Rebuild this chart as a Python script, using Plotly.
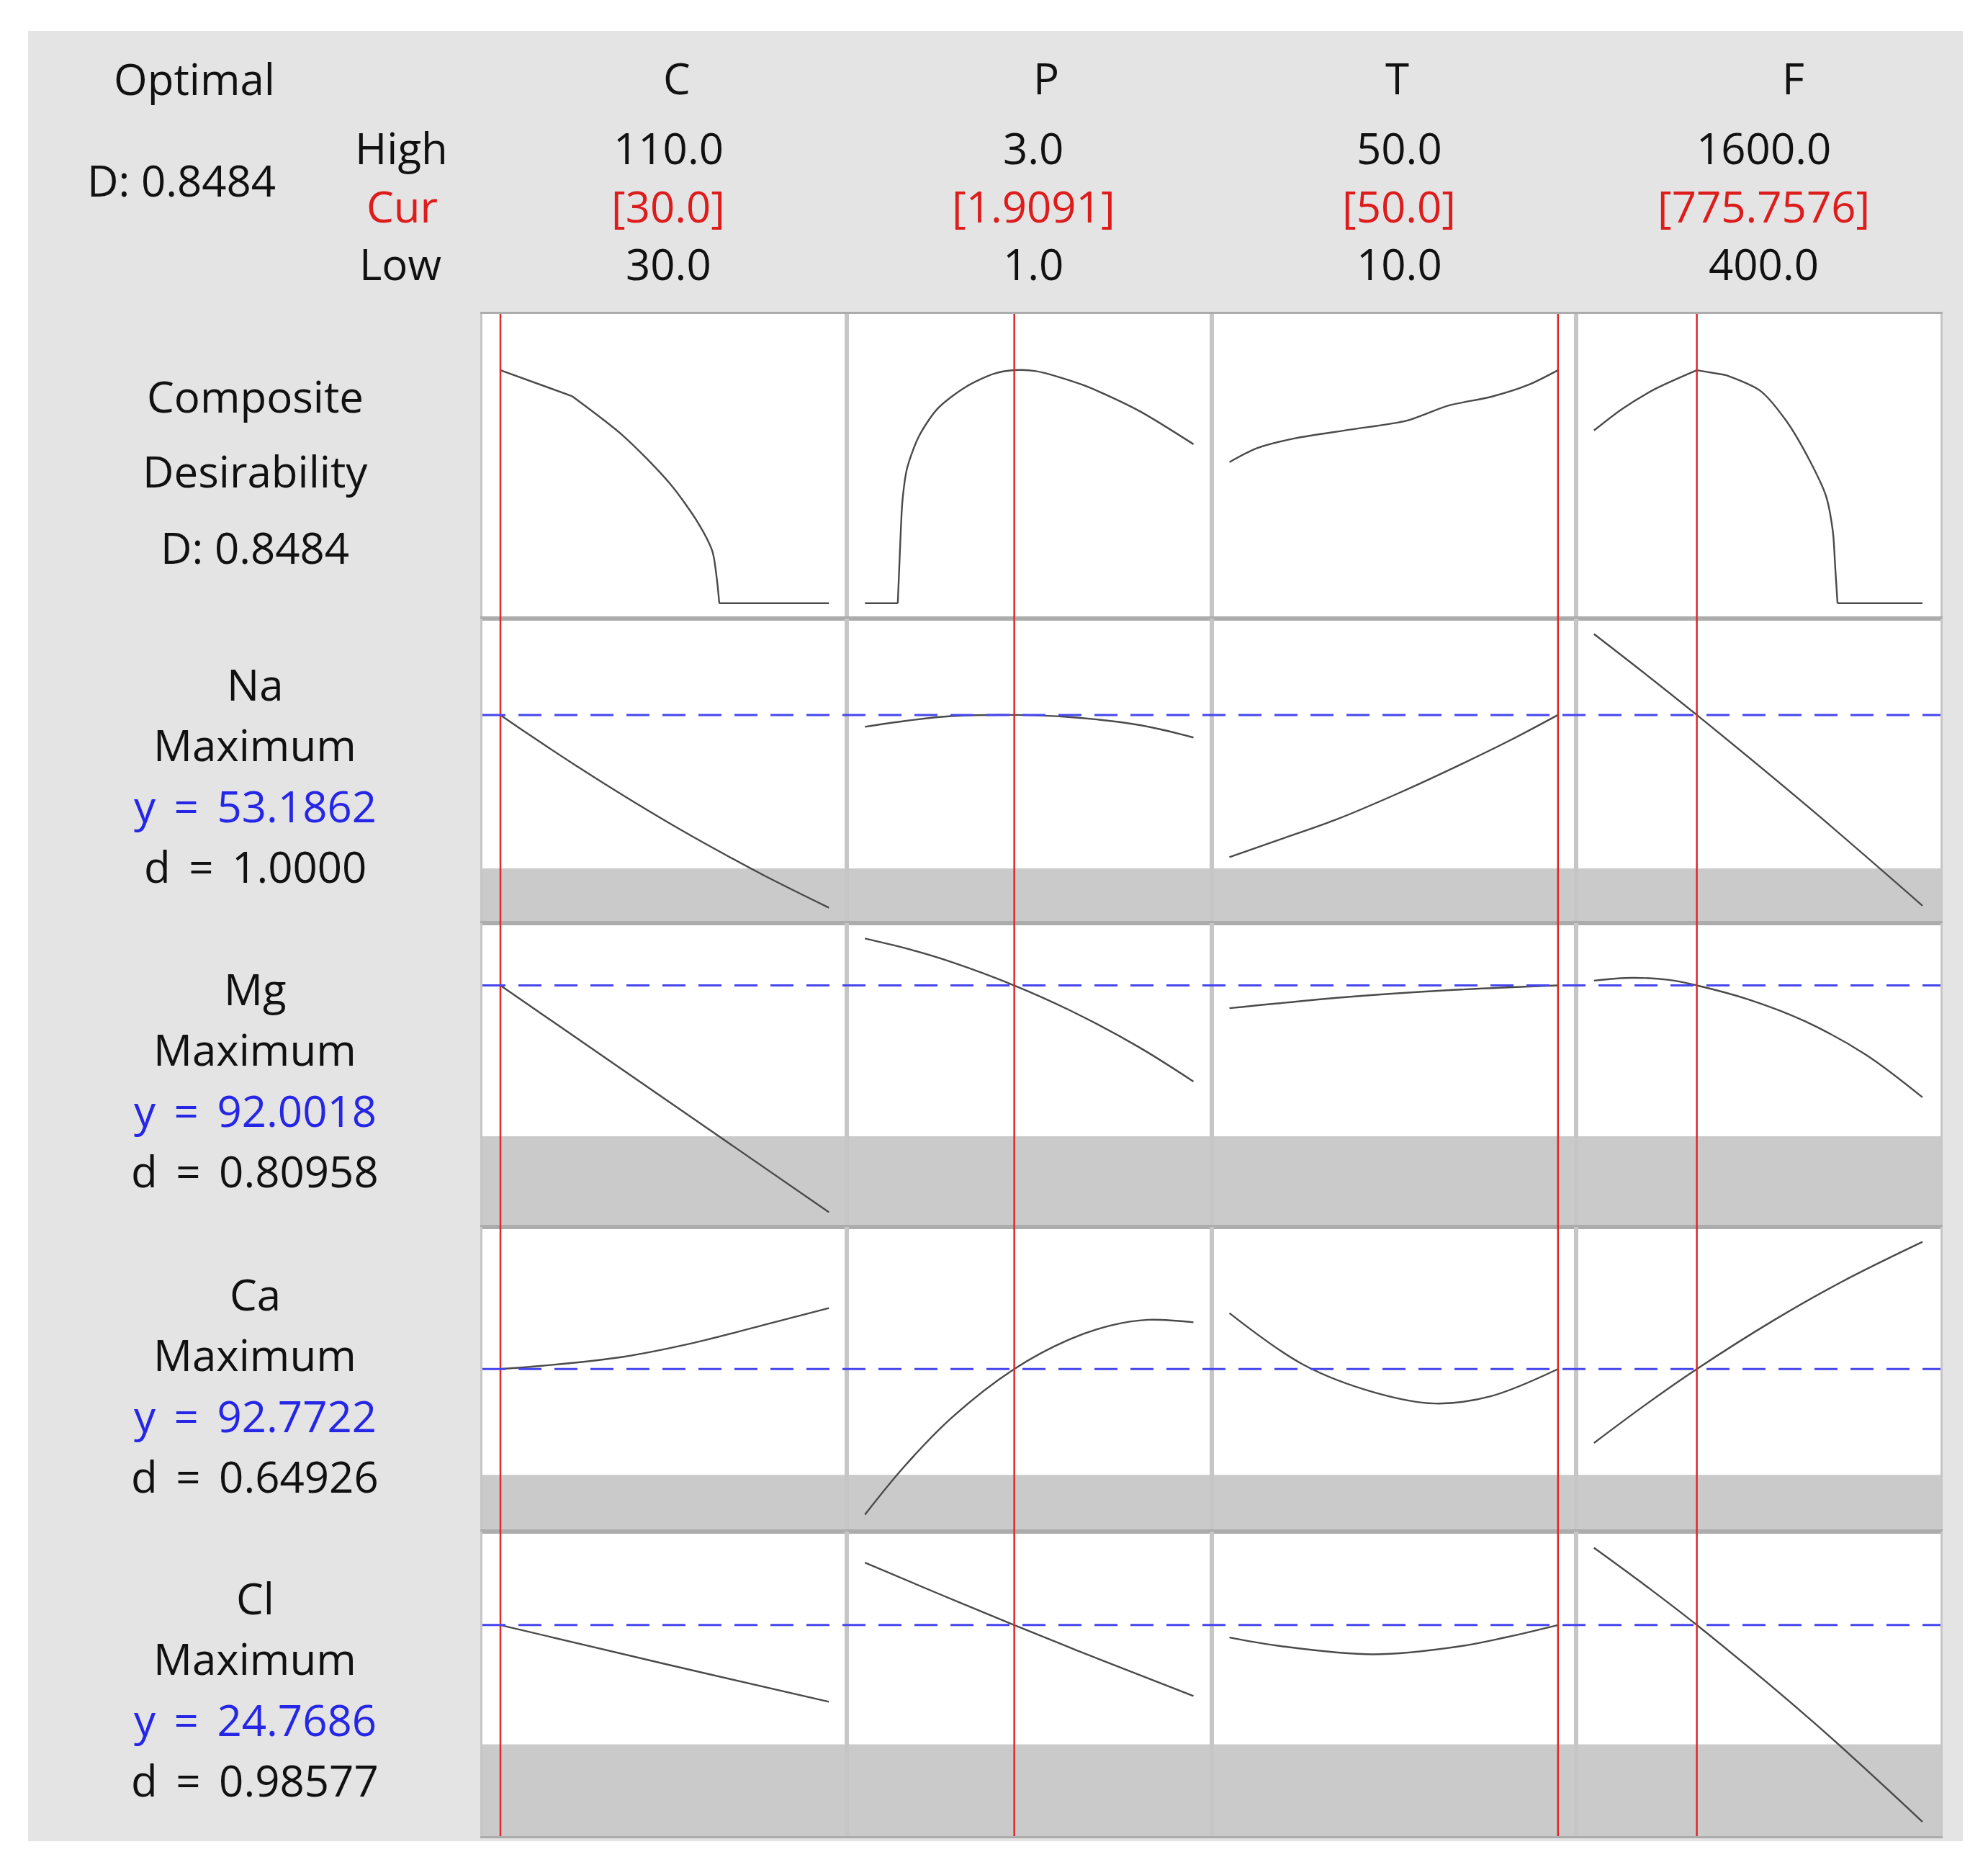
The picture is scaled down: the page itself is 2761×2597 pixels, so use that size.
import plotly.graph_objects as go
from plotly.subplots import make_subplots

# factor settings
factors = ["C", "P", "T", "F"]
highs = [110.0, 3.0, 50.0, 1600.0]
lows = [30.0, 1.0, 10.0, 400.0]
current = [30.0, 1.9091, 50.0, 775.7576]

# responses
responses = ["Na", "Mg", "Ca", "Cl"]
y_opt = [53.1862, 92.0018, 92.7722, 24.7686]
d_opt = ["1.0000", "0.80958", "0.64926", "0.98577"]
lower_limit = [40.4, 79.4, 86.9, 19.8]
D_total = 0.8484

# composite desirability traces
D_C_x = [30, 47.4, 60.0, 71.3, 78.2, 81.6, 82.7, 83.3, 110]
D_C_y = [0.8484, 0.754, 0.608, 0.435, 0.291, 0.190, 0.089, 0.0, 0.0]
D_P_x = [1.0, 1.20, 1.214, 1.229, 1.257, 1.329, 1.442, 1.613, 1.784, 1.9091, 2.040, 2.325, 2.667, 3.0]
D_P_y = [0, 0, 0.204, 0.377, 0.492, 0.608, 0.708, 0.787, 0.835, 0.8484, 0.845, 0.795, 0.701, 0.579]
D_T_x = [10, 13.3, 17.9, 24.7, 31.6, 36.7, 41.8, 46.4, 50]
D_T_y = [0.514, 0.564, 0.600, 0.632, 0.665, 0.720, 0.751, 0.795, 0.8484]
D_F_x = [400, 503.7, 623.5, 775.7576, 879.8, 1007.8, 1101.7, 1187.2, 1247, 1272.6, 1281.2, 1289.7, 1600]
D_F_y = [0.629, 0.708, 0.780, 0.8484, 0.831, 0.773, 0.665, 0.521, 0.392, 0.262, 0.132, 0, 0]

# Na
Na_C_x = [30, 37.2, 48.6, 60.0, 71.3, 82.7, 94.1, 110]
Na_C_y = [53.19, 51.50, 48.92, 46.46, 44.14, 41.93, 39.83, 37.12]
Na_P_x = [1.0, 1.243, 1.528, 1.9091, 2.240, 2.667, 3.0]
Na_P_y = [52.2, 52.69, 53.09, 53.19, 53.02, 52.36, 51.31]
Na_T_x = [10, 16.2, 23.0, 30.4, 37.2, 44.1, 50]
Na_T_y = [41.34, 42.82, 44.47, 46.61, 48.75, 51.05, 53.19]
Na_F_x = [400, 590, 775.7576, 1200, 1600]
Na_F_y = [59.94, 56.57, 53.19, 45.19, 37.29]

# Mg
Mg_C_x = [30, 70, 110]
Mg_C_y = [92.00, 82.52, 73.05]
Mg_P_x = [1.0, 1.243, 1.528, 1.9091, 2.240, 2.667, 3.0]
Mg_P_y = [95.92, 95.12, 93.95, 92.00, 89.97, 86.85, 83.97]
Mg_T_x = [10, 24.7, 36.1, 50]
Mg_T_y = [90.10, 91.05, 91.58, 92.00]
Mg_F_x = [400, 538, 674.6, 775.7576, 965, 1170, 1392, 1600]
Mg_F_y = [92.40, 92.63, 92.46, 92.00, 90.82, 89.01, 86.23, 82.65]

# Ca
Ca_C_x = [30, 40.2, 60.0, 77.1, 94.1, 110]
Ca_C_y = [92.77, 92.95, 93.45, 94.22, 95.21, 96.15]
Ca_P_x = [1.0, 1.243, 1.528, 1.9091, 2.240, 2.495, 2.723, 3.0]
Ca_P_y = [84.70, 87.40, 90.07, 92.77, 94.39, 95.18, 95.50, 95.36]
Ca_T_x = [10, 19.0, 27.6, 35.0, 41.8, 50]
Ca_T_y = [95.87, 93.01, 91.48, 90.86, 91.26, 92.77]
Ca_F_x = [400, 590, 775.7576, 1050, 1307, 1600]
Ca_F_y = [88.67, 90.81, 92.77, 95.41, 97.62, 99.82]

# Cl
Cl_C_x = [30, 70, 110]
Cl_C_y = [24.77, 23.15, 21.57]
Cl_P_x = [1.0, 1.45, 1.9091, 2.45, 3.0]
Cl_P_y = [27.37, 26.07, 24.77, 23.28, 21.81]
Cl_T_x = [10, 16.7, 27.5, 37.8, 43.8, 50]
Cl_T_y = [24.25, 23.87, 23.55, 23.87, 24.27, 24.77]
Cl_F_x = [400, 590, 775.7576, 1200, 1600]
Cl_F_y = [27.99, 26.40, 24.77, 20.74, 16.57]

curves = [
    [(D_C_x, D_C_y), (D_P_x, D_P_y), (D_T_x, D_T_y), (D_F_x, D_F_y)],
    [(Na_C_x, Na_C_y), (Na_P_x, Na_P_y), (Na_T_x, Na_T_y), (Na_F_x, Na_F_y)],
    [(Mg_C_x, Mg_C_y), (Mg_P_x, Mg_P_y), (Mg_T_x, Mg_T_y), (Mg_F_x, Mg_F_y)],
    [(Ca_C_x, Ca_C_y), (Ca_P_x, Ca_P_y), (Ca_T_x, Ca_T_y), (Ca_F_x, Ca_F_y)],
    [(Cl_C_x, Cl_C_y), (Cl_P_x, Cl_P_y), (Cl_T_x, Cl_T_y), (Cl_F_x, Cl_F_y)],
]
# sharp corners in the composite curves (point indices)
kinks = [[1, 7], [1], [], [3, 4, 11]]

# y ranges of each row of panels
row_ranges = [(-0.055, 1.053), (35.86, 61.24), (71.79, 97.23), (83.75, 100.63), (15.97, 28.66)]

W, H = 2761, 2597
OFF = 8  # page body margin
L, R, T, B = 670, 2695, 436, 2550  # grid box in pixels


def px(x):
    return (x - L) / (R - L)


def py(y):
    return (B - y) / (B - T)


fig = make_subplots(rows=5, cols=4, horizontal_spacing=0, vertical_spacing=0)

for r in range(5):
    for c in range(4):
        xs, ys = curves[r][c]
        cuts = [0] + (kinks[c] if r == 0 else []) + [len(xs) - 1]
        for a, b in zip(cuts[:-1], cuts[1:]):
            fig.add_trace(go.Scatter(
                x=xs[a:b + 1], y=ys[a:b + 1], mode="lines",
                line=dict(color="#4a4a4a", width=2.4, shape="spline",
                          smoothing=0.8 if r == 0 else 1.0),
                hoverinfo="skip"),
                row=r + 1, col=c + 1)

pad = 25 / 456
for r in range(5):
    for c in range(4):
        span = highs[c] - lows[c]
        fig.update_xaxes(range=[lows[c] - pad * span, highs[c] + pad * span],
                         row=r + 1, col=c + 1)
        fig.update_yaxes(range=list(row_ranges[r]), row=r + 1, col=c + 1)

fig.update_xaxes(showticklabels=False, showgrid=False, zeroline=False, ticks="",
                 showline=True, mirror=True, linewidth=3, linecolor="#acacac")
fig.update_yaxes(showticklabels=False, showgrid=False, zeroline=False, ticks="",
                 showline=True, mirror=True, linewidth=3, linecolor="#c6c6c6")

shapes = []
# white margin around the gray panel
white = dict(type="rect", xref="paper", yref="paper", fillcolor="white", line=dict(width=0), layer="below")
shapes.append(dict(white, x0=px(0), x1=px(39), y0=py(H), y1=py(0)))
shapes.append(dict(white, x0=px(0), x1=px(W), y0=py(43), y1=py(0)))
shapes.append(dict(white, x0=px(2726), x1=px(W), y0=py(H), y1=py(0)))
shapes.append(dict(white, x0=px(0), x1=px(W), y0=py(H), y1=py(2557)))

# gray band below the lower limit of each response
for i in range(4):
    yax = "y%d" % ((i + 1) * 4 + 1)
    shapes.append(dict(type="rect", xref="paper", yref=yax, x0=0, x1=1,
                       y0=row_ranges[i + 1][0], y1=lower_limit[i],
                       fillcolor="#cacaca", line=dict(width=0), layer="below"))

# current settings (red) and predicted responses (blue dashed)
for c in range(4):
    shapes.append(dict(type="line", xref="x%d" % (c + 1) if c else "x", yref="paper",
                       x0=current[c], x1=current[c], y0=0, y1=1,
                       line=dict(color="#e02828", width=2.5)))
for i in range(4):
    yax = "y%d" % ((i + 1) * 4 + 1)
    shapes.append(dict(type="line", xref="paper", yref=yax, x0=0, x1=1,
                       y0=y_opt[i], y1=y_opt[i],
                       line=dict(color="#4646ee", width=3, dash="32px,18px")))

ann = []
black = "#111111"
red = "#dd1c1c"
blue = "#2626e6"


def text(s, x, y, color=black):
    ann.append(dict(text=s, x=px(x), y=py(y), xref="paper", yref="paper",
                    showarrow=False, xanchor="center", yanchor="middle",
                    font=dict(color=color)))


text("Optimal", 270, 109)
text("D: %.4f" % D_total, 252, 250)
text("High", 557, 205)
text("Cur", 558, 286, red)
text("Low", 556, 366)

head_x = [940, 1453, 1940, 2490]
val_x = [928, 1435, 1943, 2449]
for c in range(4):
    text(factors[c], head_x[c], 108)
    text("%.1f" % highs[c], val_x[c], 205)
    text("[%s]" % ("%.1f" % current[c] if c in (0, 2) else "%.4f" % current[c]), val_x[c], 286, red)
    text("%.1f" % lows[c], val_x[c], 366)

text("Composite", 354, 550)
text("Desirability", 354, 654)
text("D: %.4f" % D_total, 354, 760)

sp = " \u2009"
row_tops = [858, 1281, 1705, 2127]
for i in range(4):
    t0 = row_tops[i]
    text(responses[i], 354, t0 + 92)
    text("Maximum", 354, t0 + 176)
    text("y" + sp + "=" + sp + "%.4f" % y_opt[i], 354, t0 + 261, blue)
    text("d" + sp + "=" + sp + d_opt[i], 354, t0 + 345)

fig.update_layout(
    width=W - OFF, height=H - OFF,
    margin=dict(l=L - OFF, r=W - R, t=T - OFF, b=H - B),
    paper_bgcolor="#e4e4e4", plot_bgcolor="white",
    showlegend=False,
    font=dict(family="Open Sans", size=60, color=black),
    shapes=shapes, annotations=ann,
)

fig.write_html("out.html")
